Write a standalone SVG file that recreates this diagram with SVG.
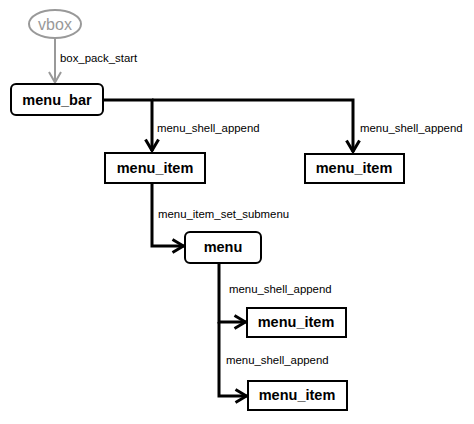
<svg xmlns="http://www.w3.org/2000/svg" width="474" height="424" viewBox="0 0 474 424">
<style>
.node{fill:#fff;stroke:#000;stroke-width:2}
.nt{font-family:"Liberation Sans",Arial,sans-serif;font-weight:bold;font-size:14.5px;text-anchor:middle;dominant-baseline:central;fill:#000}
.lbl{font-family:"Liberation Sans",Arial,sans-serif;font-size:11.4px;fill:#000}
.e{fill:none;stroke:#000;stroke-width:3}
.g{fill:none;stroke:#999;stroke-width:2}
</style>
<defs>
<marker id="a" viewBox="0 0 14 16" refX="13" refY="8" markerWidth="14" markerHeight="16" markerUnits="userSpaceOnUse" orient="auto">
<path d="M1.5,1.5 L12.5,8 L1.5,14.5" fill="none" stroke="#000" stroke-width="3"/>
</marker>
<marker id="ag" viewBox="0 0 13 14" refX="12" refY="7" markerWidth="13" markerHeight="14" markerUnits="userSpaceOnUse" orient="auto">
<path d="M1,1 L11.5,7 L1,13" fill="none" stroke="#999" stroke-width="2"/>
</marker>
</defs>
<rect width="474" height="424" fill="#fff"/>
<g id="connectors">
<path class="g" d="M55,38 V83" marker-end="url(#ag)"/>
<text class="lbl" x="60" y="62">box_pack_start</text>
<path class="e" d="M103,100 H152 V151" marker-end="url(#a)"/>
<text class="lbl" x="157" y="132">menu_shell_append</text>
<path class="e" d="M152,100 H353 V152" marker-end="url(#a)"/>
<text class="lbl" x="360" y="132">menu_shell_append</text>
<path class="e" d="M152,183 V246 H184" marker-end="url(#a)"/>
<text class="lbl" x="158" y="218">menu_item_set_submenu</text>
<path class="e" d="M219,263 V322 H246" marker-end="url(#a)"/>
<text class="lbl" x="229" y="293">menu_shell_append</text>
<path class="e" d="M219,322 V396 H247" marker-end="url(#a)"/>
<text class="lbl" x="226" y="364">menu_shell_append</text>
</g>
<g id="vbox">
<ellipse cx="55" cy="24" rx="26" ry="14" fill="#fff" stroke="#999" stroke-width="2"/>
<text x="55" y="24" font-family="'Liberation Sans',Arial,sans-serif" font-size="16" text-anchor="middle" dominant-baseline="central" fill="#999">vbox</text>
</g>
<g id="menu_bar">
<rect class="node" x="11" y="84" width="92" height="31" rx="5"/>
<text class="nt" x="57" y="100">menu_bar</text>
</g>
<g id="menu_item1">
<rect class="node" x="105" y="153" width="100" height="30"/>
<text class="nt" x="155" y="168">menu_item</text>
</g>
<g id="menu_item2">
<rect class="node" x="305" y="154" width="99" height="29"/>
<text class="nt" x="354" y="168">menu_item</text>
</g>
<g id="menu">
<rect class="node" x="185" y="232" width="76" height="31" rx="5"/>
<text class="nt" x="223" y="247">menu</text>
</g>
<g id="menu_item3">
<rect class="node" x="247" y="308" width="99" height="29"/>
<text class="nt" x="296" y="322">menu_item</text>
</g>
<g id="menu_item4">
<rect class="node" x="248" y="381" width="99" height="29"/>
<text class="nt" x="297" y="395">menu_item</text>
</g>
</svg>
